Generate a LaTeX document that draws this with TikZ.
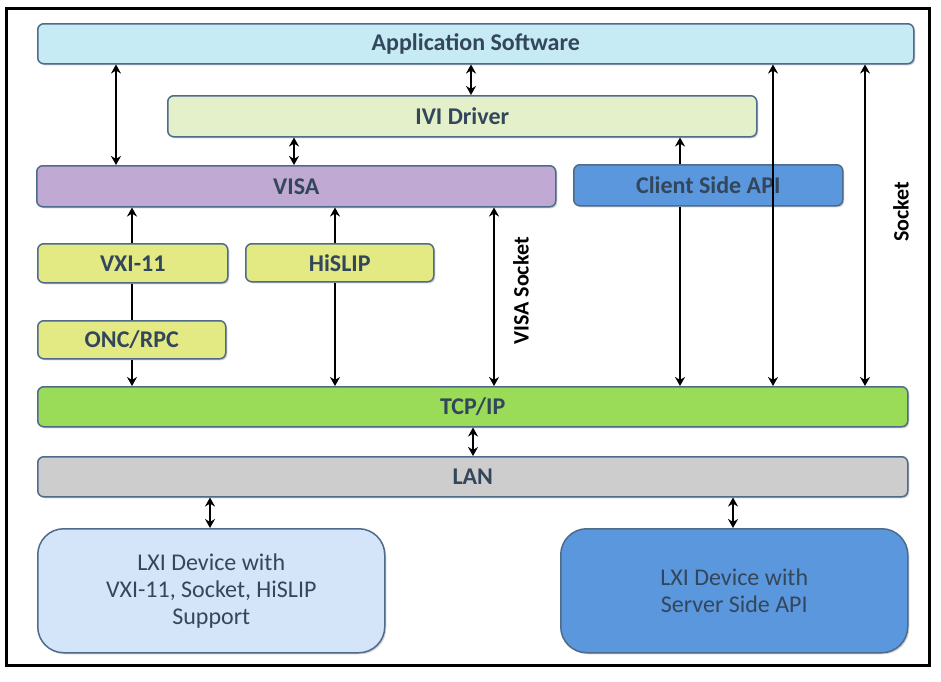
\documentclass[tikz,border=0pt]{standalone}
\usepackage{fontspec}
\setmainfont{Carlito}
\usepackage{tikz}
\usetikzlibrary{arrows.meta,shadows}

\definecolor{appcol}{HTML}{C6EBF5}
\definecolor{ivicol}{HTML}{E3F0C9}
\definecolor{visacol}{HTML}{C0AAD3}
\definecolor{apicol}{HTML}{5A97DC}
\definecolor{protocol}{HTML}{E3E983}
\definecolor{tcpcol}{HTML}{9ADB57}
\definecolor{lancol}{HTML}{CDCDCD}
\definecolor{devcol}{HTML}{D4E5FA}
\definecolor{edgecol}{HTML}{4E6B8C}
\definecolor{txtcol}{HTML}{33465C}

\begin{document}
\begin{tikzpicture}[
    x=1pt, y=-1pt, % 按像素坐标, y 向下
    layerbox/.style={draw=edgecol, line width=1.5pt, rounded corners=6pt,
        anchor=north west, inner sep=0pt, text=txtcol,
        font=\fontsize{24}{28}\selectfont\bfseries,
        drop shadow={shadow xshift=1.5pt, shadow yshift=-1.5pt, opacity=0.35}},
    devbox/.style={layerbox, rounded corners=26pt, align=center,
        font=\fontsize{24}{27}\selectfont},
    link/.style={line width=2.7pt, -{Stealth[length=9pt,width=10pt]}},
    twoway/.style={line width=2.7pt, {Stealth[length=9pt,width=10pt]}-{Stealth[length=9pt,width=10pt]}},
    wire/.style={line width=2.7pt},
    tag/.style={rotate=90, font=\fontsize{22}{24}\selectfont\bfseries},
]
% 画布与外框
\useasboundingbox (0,0) rectangle (941,681);
\draw[line width=3pt] (6,8) rectangle (929,665);

% 各层方框
\node[layerbox, fill=appcol, minimum width=876pt, minimum height=40pt] (app) at (37,23) {Application Software};
\node[layerbox, fill=ivicol, minimum width=589pt, minimum height=41pt] (ivi) at (167,95) {IVI Driver};
\node[layerbox, fill=visacol, minimum width=519pt, minimum height=41pt] (visa) at (36,165) {VISA};
\node[layerbox, fill=apicol, minimum width=269pt, minimum height=41pt] (api) at (573,164) {Client Side API};
\node[layerbox, fill=protocol, minimum width=190pt, minimum height=39pt] (vxi) at (37,243) {VXI-11};
\node[layerbox, fill=protocol, minimum width=188pt, minimum height=38pt] (hislip) at (245,243) {HiSLIP};
\node[layerbox, fill=protocol, minimum width=188pt, minimum height=38pt] (onc) at (37,320) {ONC/RPC};
\node[layerbox, fill=tcpcol, minimum width=870pt, minimum height=40pt] (tcp) at (37,386) {TCP/IP};
\node[layerbox, fill=lancol, minimum width=870pt, minimum height=40pt] (lan) at (37,456) {LAN};
\node[devbox, fill=devcol, minimum width=347pt, minimum height=124pt] (devA) at (37,528) {LXI Device with\\VXI-11, Socket, HiSLIP\\Support};
\node[devbox, fill=apicol, minimum width=347pt, minimum height=124pt] (devB) at (560,528) {LXI Device with\\Server Side API};

% 箭头所在的列
\coordinate (cA) at (116,0);
\coordinate (cB) at (471,0);
\coordinate (cC) at (294,0);
\coordinate (cD) at (680,0);
\coordinate (cE) at (773,0);
\coordinate (cF) at (865,0);
\coordinate (cG) at (132,0);
\coordinate (cH) at (335,0);
\coordinate (cI) at (494,0);
\coordinate (cJ) at (473,0);
\coordinate (cK) at (210,0);
\coordinate (cL) at (733,0);

% 上层连接
\draw[twoway] (app.south -| cA) -- (visa.north -| cA);
\draw[twoway] (app.south -| cB) -- (ivi.north -| cB);
\draw[twoway] (ivi.south -| cC) -- (visa.north -| cC);
\draw[link] (api.north -| cD) -- (ivi.south -| cD);
\draw[link] (api.south -| cD) -- (tcp.north -| cD);
\draw[twoway] (app.south -| cE) -- (tcp.north -| cE);
\draw[twoway] (app.south -| cF) -- (tcp.north -| cF);

% VISA 到 TCP/IP
\draw[link] (vxi.north -| cG) -- (visa.south -| cG);
\draw[wire] (vxi.south -| cG) -- (onc.north -| cG);
\draw[link] (onc.south -| cG) -- (tcp.north -| cG);
\draw[link] (hislip.north -| cH) -- (visa.south -| cH);
\draw[link] (hislip.south -| cH) -- (tcp.north -| cH);
\draw[twoway] (visa.south -| cI) -- (tcp.north -| cI);

% 下层连接
\draw[twoway] (tcp.south -| cJ) -- (lan.north -| cJ);
\draw[twoway] (lan.south -| cK) -- (devA.north -| cK);
\draw[twoway] (lan.south -| cL) -- (devB.north -| cL);

% 竖排标注
\node[tag] (vsock) at (521,291) {VISA Socket};
\node[tag] (sock) at (901,212) {Socket};
\end{tikzpicture}
\end{document}
